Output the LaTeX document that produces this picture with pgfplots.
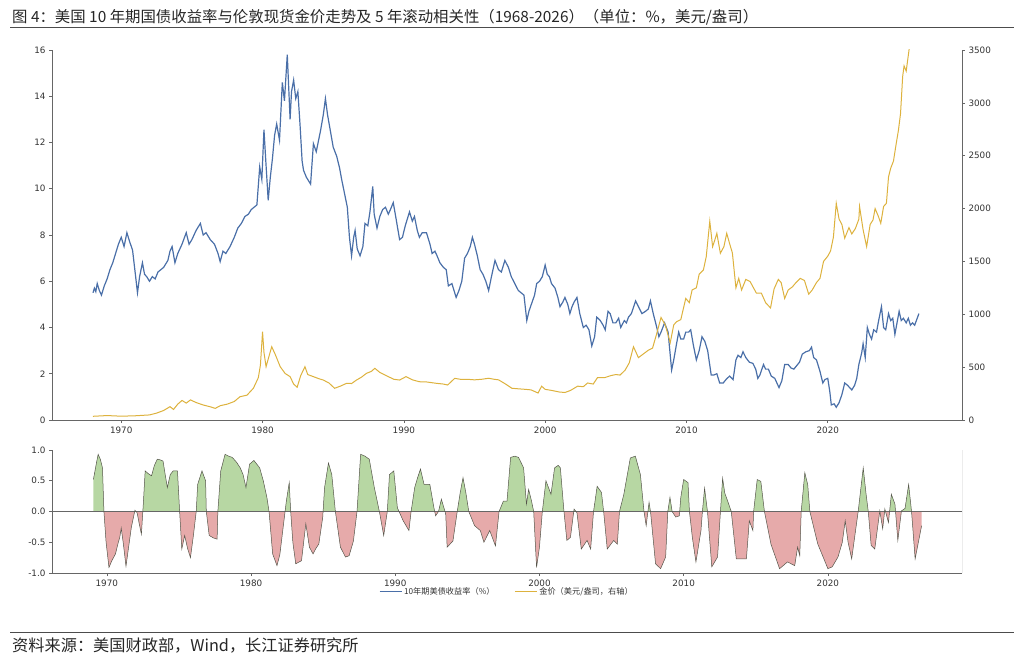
\documentclass[border=0pt]{standalone}
\usepackage{fontspec}
\setmainfont{DejaVu Sans}
\newfontfamily\cjk{Noto Sans CJK SC}
\usepackage{pgfplots}
\pgfplotsset{compat=1.18}
\usepackage{pgfplotstable}

\definecolor{yblue}{HTML}{4A6FA8}
\definecolor{gold}{HTML}{DDB23E}
\definecolor{cgreen}{HTML}{B7D7A3}
\definecolor{cred}{HTML}{E6AAAA}
\definecolor{cline}{HTML}{55554A}
\definecolor{spine}{HTML}{666666}

\pgfplotstableread{
x y
1968.0 5.5
1968.1 5.7
1968.2 5.55
1968.3 5.9
1968.45 5.6
1968.6 5.4
1968.8 5.8
1969.0 6.1
1969.2 6.5
1969.4 6.8
1969.6 7.2
1969.8 7.6
1970.0 7.9
1970.2 7.5
1970.4 8.1
1970.6 7.7
1970.8 7.35
1971.0 6.3
1971.15 5.5
1971.3 6.2
1971.5 6.8
1971.65 6.3
1971.8 6.2
1972.0 6.0
1972.2 6.2
1972.4 6.1
1972.6 6.4
1972.8 6.5
1973.0 6.6
1973.3 6.9
1973.45 7.3
1973.6 7.5
1973.8 6.8
1974.0 7.2
1974.3 7.6
1974.6 8.1
1974.8 7.6
1975.0 7.8
1975.3 8.2
1975.6 8.5
1975.8 8.0
1976.0 8.1
1976.3 7.8
1976.6 7.6
1976.85 7.2
1977.0 6.85
1977.2 7.3
1977.4 7.2
1977.7 7.5
1978.0 7.9
1978.25 8.3
1978.5 8.5
1978.75 8.8
1979.0 8.9
1979.2 9.1
1979.4 9.2
1979.6 9.3
1979.8 10.95
1979.95 10.4
1980.1 12.55
1980.25 11.0
1980.4 9.5
1980.55 10.5
1980.7 11.3
1980.85 12.3
1981.0 12.8
1981.2 12.1
1981.4 14.6
1981.55 13.8
1981.75 15.8
1981.95 13.0
1982.05 14.2
1982.2 14.7
1982.35 13.9
1982.5 14.2
1982.65 12.8
1982.8 11.2
1982.9 10.8
1983.1 10.5
1983.3 10.3
1983.4 10.2
1983.6 11.95
1983.8 11.6
1984.1 12.5
1984.3 13.2
1984.45 13.9
1984.6 13.2
1984.8 12.5
1985.0 11.8
1985.25 11.4
1985.45 10.9
1985.6 10.4
1985.8 9.8
1986.0 9.2
1986.15 7.9
1986.3 7.1
1986.45 7.9
1986.55 8.2
1986.7 7.4
1986.9 7.1
1987.1 7.5
1987.25 8.5
1987.45 8.4
1987.6 9.0
1987.8 10.1
1987.9 8.9
1988.1 8.3
1988.3 8.8
1988.5 9.1
1988.7 9.2
1988.9 8.9
1989.05 9.1
1989.25 9.4
1989.45 8.7
1989.7 7.8
1989.9 7.9
1990.1 8.4
1990.4 9.0
1990.6 8.6
1990.75 8.8
1990.95 8.2
1991.1 7.9
1991.3 8.1
1991.6 8.1
1991.85 7.6
1992.0 7.2
1992.2 7.3
1992.35 7.1
1992.55 6.8
1992.8 6.6
1993.0 6.5
1993.15 5.8
1993.4 5.9
1993.55 5.6
1993.7 5.3
1993.9 5.6
1994.1 6.0
1994.3 7.0
1994.5 7.2
1994.7 7.5
1994.85 7.9
1995.0 7.6
1995.2 7.1
1995.4 6.5
1995.6 6.3
1995.8 6.0
1996.0 5.6
1996.2 6.2
1996.45 6.9
1996.7 6.5
1996.9 6.4
1997.15 6.9
1997.4 6.6
1997.6 6.2
1997.85 5.9
1998.1 5.6
1998.3 5.5
1998.5 5.4
1998.7 4.3
1998.85 4.7
1999.05 5.05
1999.25 5.4
1999.4 5.9
1999.6 6.0
1999.8 6.2
2000.0 6.7
2000.15 6.3
2000.3 6.2
2000.45 5.9
2000.7 5.7
2000.9 5.3
2001.05 4.9
2001.25 5.1
2001.4 5.3
2001.6 5.0
2001.75 4.6
2001.9 4.9
2002.05 5.1
2002.25 5.3
2002.45 4.6
2002.7 4.0
2002.9 4.1
2003.1 3.9
2003.3 3.2
2003.5 3.6
2003.65 4.45
2003.9 4.3
2004.1 4.1
2004.25 3.9
2004.45 4.7
2004.6 4.6
2004.8 4.2
2005.0 4.2
2005.2 4.4
2005.35 4.0
2005.6 4.3
2005.75 4.2
2005.9 4.45
2006.1 4.6
2006.4 5.15
2006.6 4.9
2006.85 4.6
2007.1 4.7
2007.3 4.8
2007.45 5.15
2007.65 4.6
2007.9 4.0
2008.05 3.6
2008.2 3.8
2008.45 4.2
2008.7 3.8
2008.95 2.16
2009.1 2.6
2009.3 3.3
2009.45 3.8
2009.6 3.5
2009.8 3.5
2009.95 3.8
2010.15 3.8
2010.3 3.9
2010.5 3.2
2010.7 2.6
2010.9 3.0
2011.1 3.6
2011.3 3.4
2011.5 3.0
2011.75 1.95
2011.95 1.95
2012.15 2.0
2012.35 1.6
2012.6 1.6
2012.8 1.75
2013.05 1.9
2013.3 1.75
2013.5 2.6
2013.65 2.8
2013.85 2.7
2014.0 2.95
2014.2 2.7
2014.45 2.5
2014.7 2.45
2014.9 2.2
2015.05 1.8
2015.2 1.95
2015.45 2.4
2015.6 2.2
2015.8 2.2
2016.0 1.9
2016.25 1.8
2016.55 1.4
2016.75 1.7
2016.95 2.4
2017.2 2.4
2017.4 2.25
2017.6 2.2
2017.8 2.35
2018.0 2.5
2018.2 2.85
2018.45 2.95
2018.7 3.0
2018.85 3.15
2019.0 2.7
2019.2 2.6
2019.45 2.1
2019.65 1.6
2019.8 1.75
2020.0 1.8
2020.15 1.2
2020.25 0.65
2020.45 0.7
2020.6 0.55
2020.8 0.75
2021.0 1.1
2021.2 1.6
2021.4 1.5
2021.7 1.3
2021.9 1.5
2022.05 1.8
2022.2 2.4
2022.4 2.9
2022.5 3.3
2022.65 2.7
2022.8 4.0
2022.95 3.7
2023.1 3.5
2023.25 3.9
2023.45 3.8
2023.6 4.3
2023.8 4.9
2023.95 4.0
2024.1 3.9
2024.3 4.6
2024.45 4.3
2024.6 4.4
2024.75 3.7
2024.9 4.2
2025.05 4.7
2025.2 4.3
2025.35 4.4
2025.55 4.2
2025.7 4.4
2025.85 4.1
2026.0 4.2
2026.15 4.1
2026.45 4.6
}\yld

\pgfplotstableread{
x y
1968.0 35
1969.0 42
1970.0 36
1971.0 40
1972.0 48
1972.5 65
1973.0 90
1973.45 126
1973.7 100
1974.0 150
1974.3 185
1974.6 160
1974.9 190
1975.3 165
1975.8 142
1976.3 125
1976.65 110
1977.0 135
1977.5 150
1978.0 175
1978.4 220
1978.9 235
1979.35 300
1979.7 400
1979.85 520
1980.0 835
1980.1 640
1980.25 504
1980.45 600
1980.65 693
1980.9 620
1981.25 504
1981.6 440
1981.95 410
1982.2 340
1982.45 310
1982.7 420
1983.0 504
1983.2 430
1983.6 410
1984.0 390
1984.3 378
1984.7 350
1985.1 300
1985.5 320
1985.95 347
1986.3 345
1986.65 378
1987.0 405
1987.35 441
1987.7 460
1987.95 489
1988.3 450
1988.9 410
1989.3 385
1989.7 378
1990.15 410
1990.6 380
1991.1 362
1991.6 360
1992.3 347
1992.8 340
1993.1 331
1993.6 394
1994.0 385
1994.5 385
1995.0 380
1995.5 385
1996.0 395
1996.4 385
1996.7 380
1997.2 340
1997.65 300
1998.1 295
1998.6 290
1999.0 285
1999.5 255
1999.75 320
2000.0 290
2000.45 280
2001.0 265
2001.4 260
2001.8 280
2002.3 320
2002.7 315
2003.0 350
2003.4 340
2003.7 400
2004.2 400
2004.65 420
2005.0 430
2005.3 425
2005.65 470
2005.95 540
2006.25 693
2006.6 590
2006.9 620
2007.3 660
2007.6 680
2007.9 820
2008.2 970
2008.5 900
2008.85 730
2009.1 900
2009.3 930
2009.6 950
2009.95 1150
2010.2 1110
2010.4 1230
2010.7 1250
2010.9 1380
2011.2 1420
2011.4 1545
2011.65 1880
2011.85 1640
2012.0 1700
2012.15 1766
2012.4 1577
2012.65 1640
2012.85 1766
2013.05 1670
2013.25 1580
2013.5 1250
2013.7 1340
2013.9 1230
2014.2 1330
2014.5 1310
2014.95 1200
2015.3 1200
2015.6 1110
2015.95 1060
2016.2 1240
2016.5 1330
2016.7 1300
2016.95 1150
2017.2 1230
2017.5 1260
2017.75 1300
2018.05 1340
2018.35 1320
2018.65 1190
2018.9 1230
2019.2 1300
2019.45 1340
2019.7 1500
2020.0 1550
2020.2 1600
2020.4 1730
2020.6 2050
2020.8 1900
2021.0 1850
2021.2 1720
2021.5 1820
2021.7 1760
2021.95 1810
2022.2 1900
2022.25 2019
2022.5 1800
2022.75 1640
2023.0 1850
2023.2 1892
2023.35 2000
2023.6 1920
2023.75 1860
2023.95 2020
2024.15 2050
2024.3 2300
2024.45 2380
2024.65 2450
2024.85 2620
2025.0 2740
2025.15 2900
2025.3 3250
2025.4 3350
2025.55 3300
2025.65 3400
2025.75 3500
2025.9 3700
2026.2 4000
}\gld

\pgfplotstableread{
x y
1969.07 0.52
1969.25 0.75
1969.4 0.93
1969.55 0.85
1969.7 0.71
1969.8 0.0
1969.95 -0.5
1970.15 -0.91
1970.35 -0.8
1970.6 -0.69
1970.8 -0.5
1970.9 -0.42
1971.0 -0.27
1971.15 -0.53
1971.33 -0.89
1971.5 -0.6
1971.7 -0.26
1971.95 0.02
1972.1 -0.02
1972.25 -0.2
1972.4 -0.37
1972.55 0.2
1972.66 0.66
1972.85 0.62
1973.1 0.58
1973.3 0.75
1973.5 0.85
1973.7 0.84
1973.9 0.82
1974.05 0.6
1974.2 0.39
1974.4 0.6
1974.6 0.66
1974.9 0.66
1975.05 0.0
1975.2 -0.61
1975.4 -0.39
1975.6 -0.6
1975.8 -0.75
1976.0 -0.4
1976.2 0.0
1976.3 0.44
1976.45 0.55
1976.6 0.66
1976.85 0.5
1976.9 0.0
1977.1 -0.39
1977.4 -0.43
1977.65 -0.45
1977.7 0.0
1977.9 0.66
1978.2 0.93
1978.45 0.9
1978.7 0.88
1979.0 0.8
1979.25 0.71
1979.45 0.6
1979.65 0.39
1979.9 0.77
1980.2 0.83
1980.6 0.71
1980.85 0.5
1981.1 0.23
1981.25 0.0
1981.5 -0.69
1981.8 -0.88
1982.0 -0.7
1982.2 -0.31
1982.45 0.17
1982.65 0.47
1982.75 0.0
1982.9 -0.5
1983.1 -0.85
1983.5 -0.8
1983.8 -0.2
1984.05 -0.58
1984.3 -0.69
1984.5 -0.6
1984.7 -0.53
1984.97 -0.1
1985.1 0.39
1985.37 0.79
1985.6 0.6
1985.85 0.0
1986.2 -0.58
1986.55 -0.74
1986.8 -0.72
1987.1 -0.48
1987.35 0.0
1987.6 0.93
1987.9 0.9
1988.2 0.85
1988.55 0.39
1988.9 0.0
1989.2 -0.39
1989.45 0.0
1989.6 0.6
1989.9 0.66
1990.15 0.06
1990.55 -0.15
1990.95 -0.31
1991.1 0.0
1991.35 0.39
1991.55 0.55
1991.75 0.69
1992.0 0.44
1992.4 0.44
1992.7 0.04
1992.8 -0.07
1993.0 0.0
1993.2 0.2
1993.5 -0.04
1993.6 -0.58
1994.0 -0.48
1994.3 0.0
1994.5 0.3
1994.7 0.55
1994.9 0.3
1995.1 0.0
1995.5 -0.23
1995.9 -0.31
1996.15 -0.5
1996.55 -0.31
1996.95 -0.56
1997.2 0.0
1997.5 0.17
1997.75 0.17
1998.0 0.88
1998.3 0.9
1998.55 0.88
1998.9 0.71
1999.1 0.12
1999.25 0.36
1999.45 0.17
1999.6 0.0
1999.8 -0.91
2000.0 -0.58
2000.2 0.0
2000.45 0.5
2000.8 0.28
2001.05 0.71
2001.3 0.75
2001.45 0.71
2001.7 0.0
2001.9 -0.47
2002.15 -0.42
2002.4 0.04
2002.6 -0.02
2002.9 -0.61
2003.3 -0.47
2003.55 -0.61
2003.75 0.0
2004.0 0.41
2004.3 0.31
2004.45 0.0
2004.7 -0.61
2005.15 -0.47
2005.4 -0.53
2005.55 0.0
2005.85 0.28
2006.3 0.87
2006.65 0.9
2007.0 0.6
2007.25 0.0
2007.4 -0.23
2007.6 0.15
2007.7 0.0
2008.05 -0.85
2008.4 -0.93
2008.75 -0.74
2008.9 0.0
2009.05 0.23
2009.2 0.0
2009.45 -0.09
2009.7 -0.07
2009.8 0.23
2010.0 0.52
2010.3 0.47
2010.4 0.0
2010.6 -0.42
2010.85 -0.82
2011.2 -0.31
2011.3 0.0
2011.45 0.38
2011.65 0.0
2011.95 -0.9
2012.35 -0.74
2012.55 0.0
2012.7 0.54
2012.85 0.3
2013.05 0.17
2013.3 0.0
2013.65 -0.77
2014.35 -0.77
2014.55 -0.15
2014.8 -0.31
2014.85 0.0
2015.1 0.52
2015.35 0.49
2015.6 0.0
2016.05 -0.53
2016.65 -0.93
2017.2 -0.82
2017.7 -0.88
2017.9 -0.58
2018.05 -0.72
2018.15 0.0
2018.4 0.63
2018.6 0.44
2018.75 0.0
2019.3 -0.53
2019.6 -0.7
2020.0 -0.93
2020.3 -0.9
2020.7 -0.74
2021.0 -0.5
2021.2 -0.15
2021.4 -0.5
2021.65 -0.77
2022.1 0.0
2022.45 0.71
2022.65 0.28
2022.8 0.0
2023.0 -0.55
2023.25 -0.61
2023.6 0.01
2023.8 -0.28
2023.95 0.04
2024.2 -0.18
2024.4 0.28
2024.65 0.12
2024.85 -0.47
2025.1 0.01
2025.35 0.05
2025.6 0.44
2025.8 0.0
2026.05 -0.77
2026.3 -0.47
2026.5 -0.23
}\corr

\pgfplotsset{
  mystyle/.style={
    scale only axis,
    anchor=south west,
    axis line style={spine, line width=0.7pt},
    tick style={spine, line width=0.6pt},
    major tick length=3pt,
    tick align=outside,
    tick label style={font=\fontsize{8.8}{10}\selectfont, text=black!80},
  }
}

\begin{document}
\begin{tikzpicture}[x=1pt,y=1pt]
\useasboundingbox (0,0) rectangle (1024,667);
\node[anchor=west, inner sep=0, text=black!85] at (12,650) {\cjk\fontsize{15.4}{17}\selectfont 图 4：美国 10 年期国债收益率与伦敦现货金价走势及 5 年滚动相关性（1968-2026）（单位：\%，美元/盎司）};
\draw[black!70, line width=0.8pt] (10,640) -- (1014,640);
\draw[black!70, line width=0.8pt] (10,35) -- (1014,35);
\node[anchor=west, inner sep=0, text=black!85] at (12,21) {\cjk\fontsize{16.2}{18}\selectfont 资料来源：美国财政部，Wind，长江证券研究所};

% top panel, left axis
\begin{axis}[mystyle, at={(52pt,247pt)}, width=910pt, height=370pt,
  xmin=1965.1, xmax=2029.5, ymin=0, ymax=16,
  axis x line*=bottom, axis y line*=left,
  xtick={1970,1980,1990,2000,2010,2020},
  xticklabels={1970,1980,1990,2000,2010,2020},
  ytick={0,2,4,6,8,10,12,14,16},
  yticklabels={0,2,4,6,8,10,12,14,16}]
\addplot[yblue, line width=1.2pt] table {\yld};
\end{axis}

% top panel, right axis
\begin{axis}[mystyle, at={(52pt,247pt)}, width=910pt, height=370pt,
  xmin=1965.1, xmax=2029.5, ymin=0, ymax=3500,
  axis y line*=right, axis x line=none,
  ytick={0,500,1000,1500,2000,2500,3000,3500},
  yticklabels={0,500,1000,1500,2000,2500,3000,3500}]
\addplot[gold, line width=1.0pt] table {\gld};
\end{axis}

% bottom panel
\begin{axis}[mystyle, at={(52pt,94pt)}, width=910pt, height=123pt,
  xmin=1966.2, xmax=2029.3, ymin=-1, ymax=1,
  axis x line*=bottom, axis y line*=left,
  xtick={1970,1980,1990,2000,2010,2020},
  xticklabels={1970,1980,1990,2000,2010,2020},
  ytick={-1,-0.5,0,0.5,1},
  yticklabels={-1.0,-0.5,0.0,0.5,1.0},
  legend style={at={(0.5,-0.08)}, anchor=north, draw=none, fill=none,
    legend columns=2, font=\cjk\fontsize{8.2}{9}\selectfont, text=black!80,
    /tikz/every even column/.append style={column sep=18pt}},
  legend image code/.code={\draw[#1] (0pt,0pt) -- (22pt,0pt);}]
\addlegendimage{yblue, line width=0.8pt}
\addlegendentry{10年期美债收益率（\%）}
\addlegendimage{gold, line width=0.8pt}
\addlegendentry{金价（美元/盎司，右轴）}
\begin{scope}
\clip (axis cs:1966.2,0) rectangle (axis cs:2029.3,1);
\addplot[fill=cgreen, draw=none, forget plot] table {\corr} \closedcycle;
\end{scope}
\begin{scope}
\clip (axis cs:1966.2,-1) rectangle (axis cs:2029.3,0);
\addplot[fill=cred, draw=none, forget plot] table {\corr} \closedcycle;
\end{scope}
\draw[spine, line width=0.8pt] (axis cs:1966.2,0) -- (axis cs:2029.3,0);
\addplot[cline, line width=0.5pt, forget plot] table {\corr};
\draw[spine, line width=0.7pt] (rel axis cs:1,0) -- (rel axis cs:1,1);
\end{axis}
\end{tikzpicture}
\end{document}
